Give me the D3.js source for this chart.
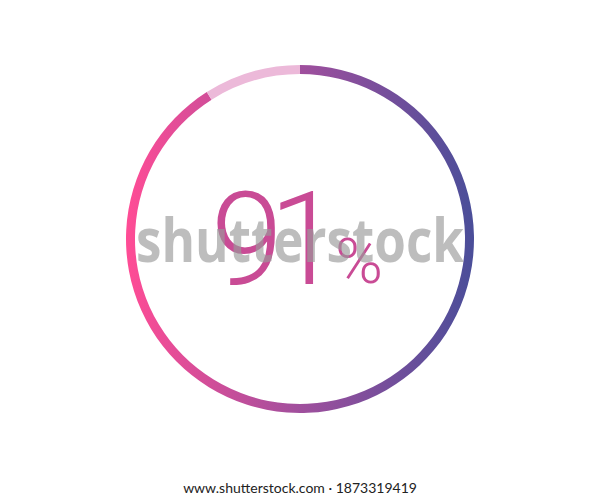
<!DOCTYPE html>
<html>
<head>
<meta charset="utf-8">
<script src="https://cdn.jsdelivr.net/npm/d3@7"></script>
<style>
  html, body { margin: 0; padding: 0; background: #fff; }
</style>
</head>
<body>
<div id="ring_chart"></div>
<script>
// chart data
var percent = 91;
var segments = [percent, 100 - percent];
var segmentNames = ["done", "rest"];
var gradientColors = ["#ff4c95", "#a04f9d", "#4a4e99"];
var restColor = "#ecb9d9";
var creditLine = "www.shutterstock.com \u00b7 1873319419";
var watermark = "shutterstock";

var width = 600,
    height = 499,
    cx = 300, cy = 239,
    outerR = 174, innerR = 165;

var svg = d3.select("#ring_chart")
  .append("svg")
    .attr("width", width)
    .attr("height", height);

// horizontal gradient for the progress part (coords are local to the ring group)
var grad = svg.append("defs").append("linearGradient")
    .attr("id", "ringGrad")
    .attr("gradientUnits", "userSpaceOnUse")
    .attr("x1", -outerR).attr("y1", 0)
    .attr("x2", outerR).attr("y2", 0);
grad.selectAll("stop")
  .data(gradientColors)
  .enter().append("stop")
    .attr("offset", (d, i) => i / (gradientColors.length - 1))
    .attr("stop-color", d => d);

var pie = d3.pie().sort(null).value(d => d);
var arc = d3.arc().innerRadius(innerR).outerRadius(outerR);

var g = svg.append("g")
    .attr("transform", "translate(" + cx + "," + cy + ")");

g.selectAll("path")
  .data(pie(segments))
  .enter()
  .append("path")
    .attr("d", arc)
    .attr("fill", (d, i) => segmentNames[i] == "done" ? "url(#ringGrad)" : restColor);

// the number in the middle, one digit at a time
var digits = String(percent).split("");
var digitX = [211, 269];
svg.selectAll(".digit")
  .data(digits)
  .enter()
  .append("text")
    .attr("class", "digit")
    .attr("x", (d, i) => digitX[i])
    .attr("y", 284)
    .style("font-family", "Roboto, sans-serif")
    .style("font-weight", 300)
    .style("font-size", "130px")
    .attr("fill", "#c94b95")
    .text(d => d);

svg.append("text")
    .attr("x", 335)
    .attr("y", 283)
    .attr("textLength", 48)
    .attr("lengthAdjust", "spacingAndGlyphs")
    .style("font-family", "Roboto, sans-serif")
    .style("font-weight", 300)
    .style("font-size", "63px")
    .attr("fill", "#c94b95")
    .text("%");

// watermark over the chart
svg.append("text")
    .attr("x", 136)
    .attr("y", 262)
    .attr("textLength", 328)
    .attr("lengthAdjust", "spacingAndGlyphs")
    .style("font-family", "'Open Sans', sans-serif")
    .style("font-weight", 700)
    .style("font-size", "60px")
    .attr("fill", "#9a9a9a")
    .attr("fill-opacity", 0.65)
    .text(watermark);

// credit line at the bottom
svg.append("text")
    .attr("x", 300)
    .attr("y", 493)
    .attr("text-anchor", "middle")
    .style("font-family", "Lato, sans-serif")
    .style("font-size", "14px")
    .attr("fill", "#222")
    .text(creditLine);
</script>
</body>
</html>
